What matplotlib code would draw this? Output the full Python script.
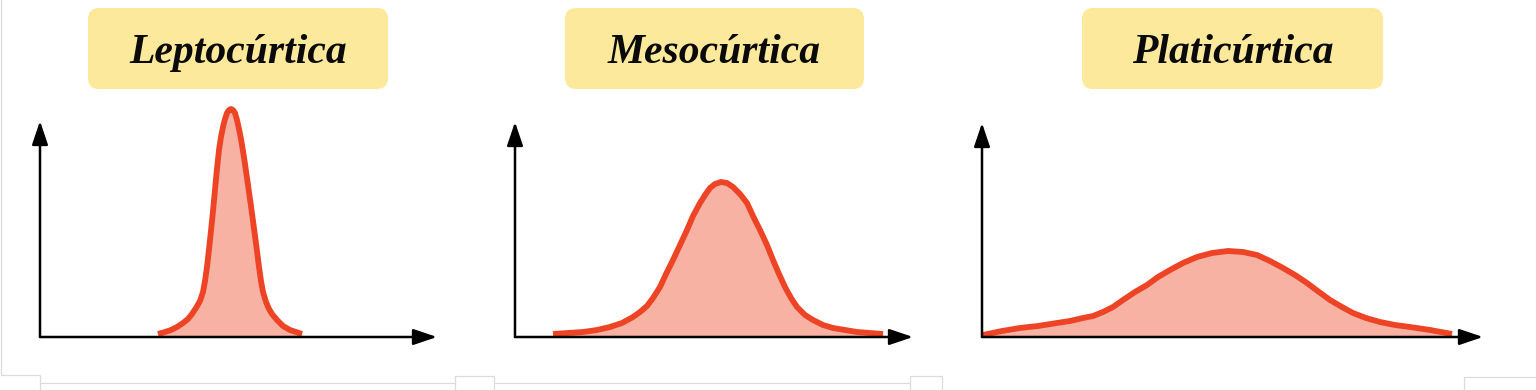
import matplotlib.pyplot as plt
from matplotlib.patches import FancyBboxPatch

# curve readings: horizontal offset from the y axis and height above the x axis (px units)
lepto_x = [118, 125, 131, 137, 143, 148, 152, 156, 160, 163, 165, 167, 168.5, 170,
           171.5, 173, 174.5, 176, 177.5, 179, 181, 183, 185, 187, 189, 191, 193,
           195, 197, 199, 201, 203, 205, 207, 209, 211, 213, 215, 217, 219, 221,
           223, 226, 229, 232, 237, 243, 250, 256, 262]
lepto_y = [3, 5, 7, 10, 14, 18, 23, 29, 36, 45, 56, 70, 83, 97,
           111, 126, 142, 158, 173, 187, 200, 210, 218, 224, 227, 228, 227,
           224, 217, 208, 198, 186, 173, 159, 145, 131, 116, 101, 86, 70, 56,
           45, 35, 28, 23, 17, 11, 7, 5, 3]

meso_x = [38, 53, 68, 82, 95, 107, 118, 125, 132, 138, 145, 151, 158, 165,
          172, 178, 185, 190, 195, 200, 206, 212, 218, 225, 232, 238, 245, 252,
          258, 264, 270, 276, 282, 290, 298, 308, 318, 330, 342, 355, 368]
meso_y = [3, 4, 5, 7, 10, 14, 20, 25, 31, 39, 50, 63, 77, 92,
          107, 121, 134, 142, 149, 153, 155, 154, 150, 143, 134, 121, 107, 92,
          77, 63, 50, 39, 30, 22, 17, 12, 9, 7, 5, 4, 3]

plati_x = [1, 20, 38, 56, 75, 88, 101, 111, 121, 131, 141, 153, 165, 176,
           188, 201, 215, 230, 246, 261, 275, 288, 301, 313, 325, 337, 348, 360,
           371, 384, 398, 413, 428, 448, 470]
plati_y = [2, 6, 9, 11, 14, 16, 19, 21, 25, 30, 37, 45, 52, 60,
           67, 74, 80, 84, 86, 85, 82, 76, 69, 62, 54, 45, 37, 30,
           24, 19, 15, 12, 10, 7, 3]

titles = ["Leptocúrtica", "Mesocúrtica", "Platicúrtica"]
curves = [(lepto_x, lepto_y), (meso_x, meso_y), (plati_x, plati_y)]

W, H = 1536, 390
LINE = '#EE4426'
FILL = '#F7B2A4'
BOX = '#FDE99B'
FRAME = '#DCDCDC'

# panel geometry in pixels: origin x, baseline, x arrow tip, y arrow tip
panels = [(40, 337, 437, 121), (515, 337, 913, 122), (982, 337, 1483, 123)]
boxes = [(88, 8, 300, 81), (565, 8, 299, 81), (1082, 8, 301, 81)]

fig = plt.figure(figsize=(W / 100, H / 100), dpi=100)
fig.patch.set_facecolor('white')

bg = fig.add_axes([0, 0, 1, 1])
bg.set_xlim(0, W)
bg.set_ylim(H, 0)
bg.axis('off')

# faint frame lines near the bottom edge
frame_lines = [
    ([1, 1, 40, 40], [0, 375, 375, 390]),
    ([40, 455], [383, 383]),
    ([455, 455, 494, 494], [390, 376, 376, 390]),
    ([494, 910], [383, 383]),
    ([910, 910, 942, 942], [390, 376, 376, 390]),
    ([1464, 1464, 1536], [390, 377, 377]),
]
for fx, fy in frame_lines:
    bg.plot(fx, fy, color=FRAME, lw=0.9)

for (bx, by, bw, bh), t in zip(boxes, titles):
    bg.add_patch(FancyBboxPatch((bx, by), bw, bh,
                                boxstyle='round,pad=0,rounding_size=11',
                                fc=BOX, ec='none'))
    bg.text(bx + bw / 2, 63, t, ha='center', va='baseline',
            fontsize=30, fontweight='bold', fontstyle='italic',
            family=['Liberation Serif', 'DejaVu Serif'], color='#0a0a0a')

for (ox, base, xt, yt), (cx, cy) in zip(panels, curves):
    w = xt - ox
    h = base - yt
    ax = fig.add_axes([ox / W, (H - base) / H, w / W, h / H])
    ax.set_xlim(0, w)
    ax.set_ylim(0, h)
    ax.axis('off')
    ax.fill_between(cx, cy, 0, color=FILL, lw=0, clip_on=False, zorder=1)
    ax.plot(cx, cy, color=LINE, lw=4.2, solid_capstyle='butt',
            solid_joinstyle='round', clip_on=False, zorder=2)
    arrow = dict(arrowstyle='-|>,head_length=0.8,head_width=0.27',
                 mutation_scale=18, color='black', lw=1.8,
                 shrinkA=0, shrinkB=0)
    ax.annotate('', xy=(1, 0), xytext=(0, 0), xycoords='axes fraction',
                arrowprops=arrow, zorder=3, annotation_clip=False)
    ax.annotate('', xy=(0, 1), xytext=(0, 0), xycoords='axes fraction',
                arrowprops=arrow, zorder=3, annotation_clip=False)

fig.savefig('out.png', dpi=100, facecolor='white')
